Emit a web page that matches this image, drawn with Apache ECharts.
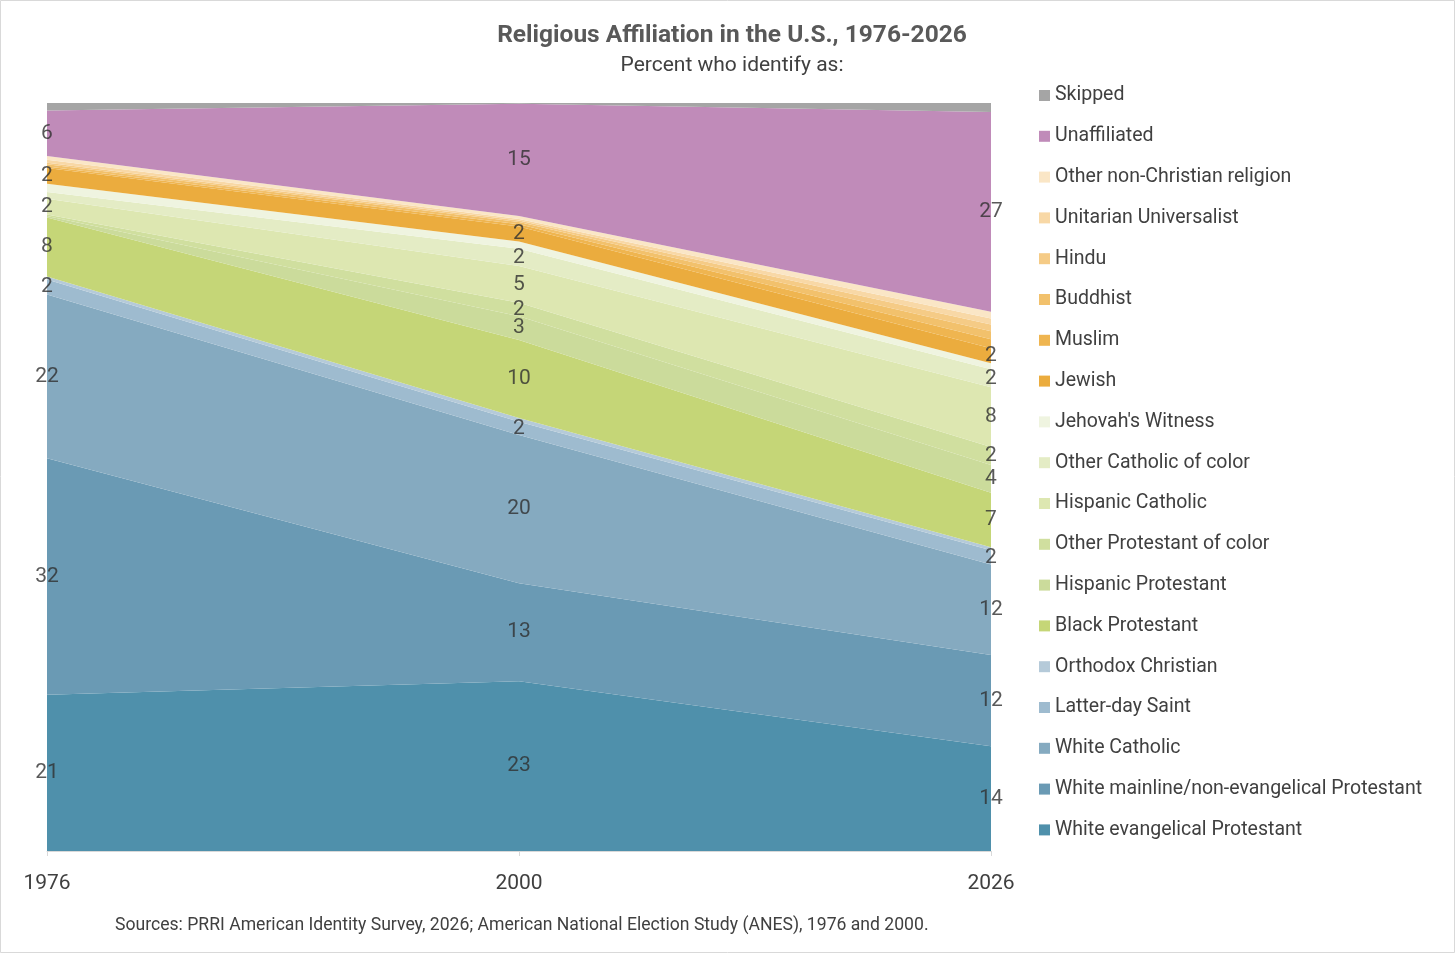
<!DOCTYPE html>
<html>
<head>
<meta charset="utf-8">
<script src="https://cdn.jsdelivr.net/npm/echarts@6/dist/echarts.min.js"></script>
<style>
  html, body { margin: 0; padding: 0; background: #fff; }
  #main { width: 1456px; height: 954px; }
</style>
</head>
<body>
<div id="main"></div>
<script>
// categories
var years = ['1976', '2000', '2026'];

// series, bottom of the stack first
var seriesNames = [
  'White evangelical Protestant',
  'White mainline/non-evangelical Protestant',
  'White Catholic',
  'Latter-day Saint',
  'Orthodox Christian',
  'Black Protestant',
  'Hispanic Protestant',
  'Other Protestant of color',
  'Hispanic Catholic',
  'Other Catholic of color',
  "Jehovah's Witness",
  'Jewish',
  'Muslim',
  'Buddhist',
  'Hindu',
  'Unitarian Universalist',
  'Other non-Christian religion',
  'Unaffiliated',
  'Skipped'
];

// percent (1976, 2000, 2026)
var whiteEvangelical = [20.9, 22.7, 14.0];
var whiteMainline    = [31.6, 13.1, 12.2];
var whiteCatholic    = [21.9, 19.8, 12.1];
var latterDaySaint   = [2.0, 1.8, 1.9];
var orthodox         = [0.4, 0.5, 0.4];
var blackProtestant  = [7.9, 10.4, 7.3];
var hispanicProt     = [0.2, 3.2, 3.7];
var otherProtColor   = [0.2, 1.8, 2.4];
var hispanicCatholic = [2.1, 4.9, 8.0];
var otherCathColor   = [0.9, 2.3, 2.4];
var jehovahs         = [1.1, 1.0, 0.8];
var jewish           = [2.1, 2.0, 2.0];
var muslim           = [0.2, 0.3, 1.2];
var buddhist         = [0.3, 0.3, 1.1];
var hindu            = [0.2, 0.2, 0.9];
var unitarian        = [0.4, 0.2, 0.8];
var otherNonChrist   = [0.5, 0.4, 0.9];
var unaffiliated     = [6.1, 15.0, 26.7];
var skipped          = [1.0, 0.1, 1.2];

var seriesValues = [
  whiteEvangelical, whiteMainline, whiteCatholic, latterDaySaint, orthodox,
  blackProtestant, hispanicProt, otherProtColor, hispanicCatholic, otherCathColor,
  jehovahs, jewish, muslim, buddhist, hindu, unitarian, otherNonChrist,
  unaffiliated, skipped
];

var colors = [
  '#4f90ab', '#6a9ab4', '#85aac0', '#9ebbcf', '#b5cad9',
  '#c5d677', '#cbdb9b', '#d0df9f', '#dde7b1', '#e4ecc5',
  '#eff4e0', '#ebac3e', '#efb550', '#f2c16c', '#f5cb86',
  '#f8d8a6', '#fae6c6', '#c08bb9', '#a5a5a5'
];

var txt = '#404040';
var font = 'Roboto';

var myChart = echarts.init(document.getElementById('main'));

var series = [];
seriesNames.forEach(function (name, i) {
  series.push({
    name: name,
    type: 'line',
    stack: 'total',
    symbol: 'none',
    lineStyle: { width: 0 },
    itemStyle: { color: colors[i] },
    areaStyle: { color: colors[i], opacity: 1 },
    emphasis: { disabled: true },
    data: seriesValues[i]
  });
});

// data labels in the middle of each band (values of 1.5 and up)
var labelPoints = [];
years.forEach(function (y, j) {
  var base = 0;
  seriesValues.forEach(function (vals) {
    var v = vals[j];
    if (v >= 1.5) labelPoints.push([j, base + v / 2, v]);
    base += v;
  });
});
series.push({
  type: 'scatter',
  symbolSize: 0,
  silent: true,
  data: labelPoints,
  label: {
    show: true,
    position: 'inside',
    color: '#303030',
    fontFamily: font,
    fontSize: 21,
    formatter: function (p) { return Math.round(p.value[2]); }
  },
  z: 10
});

var option = {
  animation: false,
  backgroundColor: '#fff',
  title: {
    text: 'Religious Affiliation in the U.S., 1976-2026',
    subtext: 'Percent who identify as:',
    left: 727,
    textAlign: 'center',
    top: 18,
    itemGap: 7,
    textStyle: { fontFamily: font, fontSize: 24.5, fontWeight: 'bold', color: '#595959' },
    subtextStyle: { fontFamily: font, fontSize: 21, color: txt }
  },
  legend: {
    orient: 'vertical',
    left: 1039,
    top: 85,
    padding: 0,
    icon: 'rect',
    itemWidth: 11,
    itemHeight: 11,
    itemGap: 19.8,
    data: seriesNames.slice().reverse(),
    selectedMode: false,
    textStyle: { fontFamily: font, fontSize: 19.5, color: txt, lineHeight: 21 }
  },
  grid: { left: 47, right: 465, top: 103, bottom: 103 },
  xAxis: {
    type: 'category',
    data: years,
    boundaryGap: false,
    axisLine: { show: true, lineStyle: { color: '#d9d9d9' } },
    axisTick: { show: true, length: 5, lineStyle: { color: '#d9d9d9' } },
    axisLabel: { color: txt, fontFamily: font, fontSize: 21, margin: 22 },
    splitLine: { show: false }
  },
  yAxis: {
    type: 'value',
    min: 0,
    max: 100,
    show: false
  },
  graphic: [
    {
      type: 'rect',
      shape: { x: 0.5, y: 0.5, width: 1454, height: 952 },
      style: { fill: 'none', stroke: '#d9d9d9', lineWidth: 1 },
      silent: true
    },
    {
      type: 'text',
      left: 115,
      top: 917,
      style: {
        text: 'Sources: PRRI American Identity Survey, 2026; American National Election Study (ANES), 1976 and 2000.',
        fill: txt,
        font: '17.6px ' + font
      }
    }
  ],
  series: series
};

myChart.setOption(option);
</script>
</body>
</html>
